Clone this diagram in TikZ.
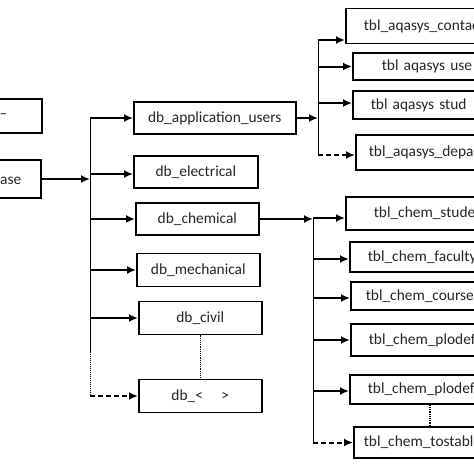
\documentclass[tikz,border=0pt]{standalone}
\usepackage{fontspec}
\setmainfont{Carlito}
\usetikzlibrary{arrows.meta}
\begin{document}
\begin{tikzpicture}[x=1pt,y=-1pt]
        \tikzstyle{block} = [rectangle, text=black!85, text centered, draw=black, line width=1.6pt, font=\fontsize{15.4}{18}\selectfont, minimum height=32pt, inner sep=0pt, anchor=west]
        \tikzstyle{tbl} = [block, text width=200pt, align=left]
        \tikzstyle{line} = [-{Latex[length=9pt,width=8pt]},draw=black,line width=2pt]
        \tikzstyle{dline} = [line, dash pattern=on 5pt off 3pt]
        \tikzstyle{bus} = [draw=black,line width=1pt]
        \tikzstyle{vdot} = [draw=black,line width=1.2pt,densely dotted]
        \clip (0,0) rectangle (474,474);
        \fill[white] (0,0) rectangle (474,474);
        % bus lines
        \coordinate (busA) at (90,0);
        \coordinate (busB) at (318,0);
        \coordinate (busC) at (313,0);
        % left side
        \node[block,anchor=east,inner xsep=35pt,minimum height=34pt] (root) at (43,116) {--};
        \node[block,anchor=east,inner xsep=20pt,minimum height=38pt] (dbase) at (42,179) {base};
        % databases
        \node[block,minimum width=162pt] (app) at (133,118) {db\_application\_users};
        \node[block,minimum width=124pt] (elec) at (133,172) {db\_electrical};
        \node[block,minimum width=123pt] (chem) at (135,219) {db\_chemical};
        \node[block,minimum width=123pt,minimum height=33pt] (mech) at (136,270) {db\_mechanical};
        \node[block,minimum width=123pt,minimum height=33pt] (civil) at (138,318) {db\_civil};
        \node[block,minimum width=123pt,minimum height=33pt] (other) at (138,396) {db\_<\hspace{1.2em}>};
        % aqasys tables
        \node[tbl,inner xsep=18pt,minimum height=35pt] (contac) at (345,26) {tbl\_aqasys\_contac};
        \node[tbl,inner xsep=29pt,minimum height=27pt] (users) at (352,66.5) {tbl aqasys use};
        \node[tbl,inner xsep=18pt,minimum height=28pt] (stud) at (352,105) {tbl aqasys stud};
        \node[tbl,inner xsep=13pt,minimum height=35pt] (depa) at (355,152.5) {tbl\_aqasys\_depa};
        % chem tables
        \node[tbl,inner xsep=28pt,minimum height=33pt] (cstud) at (345,213.5) {tbl\_chem\_stude};
        \node[tbl,inner xsep=18pt,minimum height=30pt] (cfac) at (349,257) {tbl\_chem\_faculty};
        \node[tbl,inner xsep=15pt,minimum height=28pt] (ccourse) at (350,296) {tbl\_chem\_course};
        \node[tbl,inner xsep=18pt,minimum height=32pt] (cplo) at (350,340) {tbl\_chem\_plodef};
        \node[tbl,inner xsep=18pt,minimum height=29pt] (cplob) at (349,389.5) {tbl\_chem\_plodef};
        \node[tbl,inner xsep=10pt,minimum height=31pt] (ctost) at (353,442.5) {tbl\_chem\_tostabl};
        % left connectors
        \draw[line] (dbase) -- (dbase -| busA);
        \draw[bus] (app -| busA) -- ([yshift=-34pt]civil -| busA);
        \draw[bus,densely dotted] ([yshift=-34pt]civil -| busA) -- (other -| busA);
        \draw[line] (app -| busA) -- (app);
        \draw[line] ([yshift=-2pt]elec -| busA) -- ([yshift=-2pt]elec.west);
        \draw[line] (chem -| busA) -- (chem);
        \draw[line] (mech -| busA) -- (mech);
        \draw[line] (civil -| busA) -- (civil);
        \draw[dline] (other -| busA) -- (other);
        \draw[vdot] (civil) -- (other);
        % aqasys connectors
        \draw[line] (app) -- (app -| busB);
        \draw[bus] ([yshift=-14pt]contac.west -| busB) -- ([yshift=-2.5pt]depa.west -| busB);
        \draw[line] ([yshift=-14pt]contac.west -| busB) -- ([yshift=-14pt]contac.west);
        \draw[line] (users -| busB) -- (users);
        \draw[line] ([yshift=2pt]stud.west -| busB) -- ([yshift=2pt]stud.west);
        \draw[dline] ([yshift=-2.5pt]depa.west -| busB) -- ([yshift=-2.5pt]depa.west);
        % chem connectors
        \draw[line] (chem) -- (chem -| busC);
        \draw[bus] (chem -| busC) -- (ctost -| busC);
        \draw[line] ([yshift=-4.5pt]cstud.west -| busC) -- ([yshift=-4.5pt]cstud.west);
        \draw[line] ([yshift=-2pt]cfac.west -| busC) -- ([yshift=-2pt]cfac.west);
        \draw[line] ([yshift=-2pt]ccourse.west -| busC) -- ([yshift=-2pt]ccourse.west);
        \draw[line] (cplo -| busC) -- (cplo);
        \draw[line] ([yshift=-1.5pt]cplob.west -| busC) -- ([yshift=-1.5pt]cplob.west);
        \draw[dline] (ctost -| busC) -- (ctost);
        \draw[vdot] ([xshift=81pt]cplob.south west) -- ([xshift=81pt]cplob.south west |- ctost.north);
\end{tikzpicture}
\end{document}
